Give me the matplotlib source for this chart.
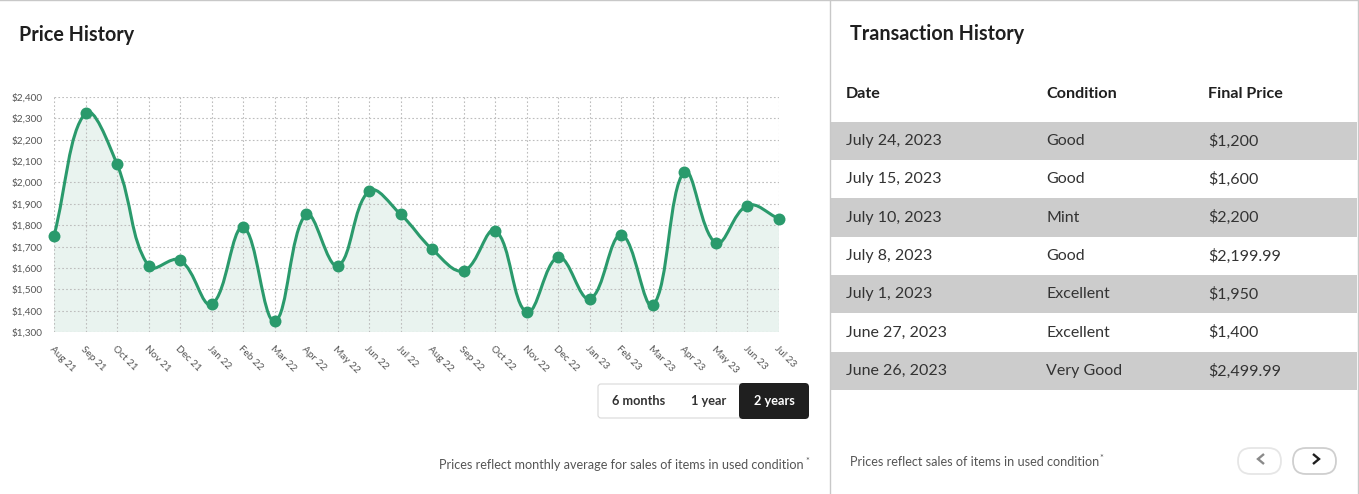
import numpy as np
import matplotlib
matplotlib.use("Agg")
import matplotlib.pyplot as plt
from matplotlib.path import Path
from matplotlib.patches import PathPatch, FancyBboxPatch, Rectangle

plt.rcParams['font.family'] = ['Lato', 'DejaVu Sans']

months = ["Aug 21","Sep 21","Oct 21","Nov 21","Dec 21","Jan 22","Feb 22","Mar 22","Apr 22","May 22","Jun 22","Jul 22",
          "Aug 22","Sep 22","Oct 22","Nov 22","Dec 22","Jan 23","Feb 23","Mar 23","Apr 23","May 23","Jun 23","Jul 23"]
prices = [1750,2325,2085,1608,1636,1430,1790,1350,1850,1610,1960,1850,
          1687,1587,1775,1393,1650,1455,1755,1425,2050,1717,1892,1830]
y_ticks = list(range(1300, 2500, 100))

dates = ["July 24, 2023","July 15, 2023","July 10, 2023","July 8, 2023","July 1, 2023","June 27, 2023","June 26, 2023"]
conditions = ["Good","Good","Mint","Good","Excellent","Excellent","Very Good"]
finals = ["$1,200","$1,600","$2,200","$2,199.99","$1,950","$1,400","$2,499.99"]
headers = ["Date","Condition","Final Price"]
ranges = ["6 months","1 year","2 years"]

W, H = 1359, 494
GREEN = "#2a9a6c"; FILL = "#e9f3ef"; DARK = "#1f1f1f"; TXT = "#333333"; GREY = "#555555"
fig = plt.figure(figsize=(W/100, H/100), dpi=100, facecolor="white")

# page layer in pixel coordinates
bg = fig.add_axes([0, 0, 1, 1]); bg.set_xlim(0, W); bg.set_ylim(H, 0); bg.axis("off")
bg.plot([0, W], [0.5, 0.5], color="#c8c8c8", lw=1)
bg.plot([829.5, 829.5], [0, H], color="#c8c8c8", lw=1)
bg.plot([1357.5, 1357.5], [0, H], color="#c8c8c8", lw=1)

bg.text(19, 35, "Price History", fontsize=14.2, fontweight="bold", color=DARK, va="center")
bg.text(850, 34, "Transaction History", fontsize=14.2, fontweight="bold", color=DARK, va="center")

col_x = [846, 1046, 1208]
for x, h in zip(col_x, headers):
    bg.text(x, 94, h, fontsize=11.6, fontweight="bold", color=DARK, va="center")
row_tops = [122, 160, 198, 237, 275, 313, 352, 390]
for i, (d, c, f) in enumerate(zip(dates, conditions, finals)):
    top, bot = row_tops[i], row_tops[i+1]
    if i % 2 == 0:
        bg.add_patch(Rectangle((830, top), 527, bot-top, color="#cccccc", lw=0))
    ym = (top+bot)/2
    for x, s in zip(col_x, (d, c, f)):
        bg.text(x, ym, s, fontsize=11.5, color=TXT, va="center")

# range buttons
bg.add_patch(FancyBboxPatch((598, 384), 210, 34, boxstyle="round,pad=0,rounding_size=3",
                            fc="white", ec="#d8d8d8", lw=0.8))
bg.add_patch(FancyBboxPatch((739, 383), 70, 36, boxstyle="round,pad=0,rounding_size=4", fc=DARK, ec="none"))
for x, s, col in zip([638.5, 709, 774], ranges, [TXT, TXT, "white"]):
    bg.text(x, 401, s, fontsize=9.2, fontweight="bold", color=col, ha="center", va="center")

bg.text(804, 465, "Prices reflect monthly average for sales of items in used condition",
        fontsize=9.1, color=GREY, ha="right", va="center")
bg.text(805, 461, "*", fontsize=6.5, color=GREY, ha="left", va="center")
bg.text(850, 462, "Prices reflect sales of items in used condition",
        fontsize=9.1, color=GREY, ha="left", va="center")
bg.text(1099, 458, "*", fontsize=6.5, color=GREY, ha="left", va="center")

# pagination pills
for x0, ec, col, sgn in [(1238, "#e6e6e6", "#8a8a8a", -1), (1293, "#cfcfcf", DARK, 1)]:
    bg.add_patch(FancyBboxPatch((x0, 448), 43, 26, boxstyle="round,pad=0,rounding_size=13",
                                fc="white", ec=ec, lw=1.3))
    xc = x0 + 23
    bg.plot([xc-sgn*3, xc+sgn*3, xc-sgn*3], [454, 459, 464], color=col, lw=1.7,
            solid_capstyle="butt", solid_joinstyle="miter")

# chart
left, right, top, bottom = 54, 779, 97, 332
ax = fig.add_axes([left/W, 1-bottom/H, (right-left)/W, (bottom-top)/H])
ax.patch.set_alpha(0)
xs = np.arange(len(prices), dtype=float)
ys = np.array(prices, dtype=float)
ax.set_xlim(0, len(prices)-1); ax.set_ylim(y_ticks[0], y_ticks[-1])

# bezier spline with tension 0.4 (distances measured in pixels)
sx = (right-left)/(len(prices)-1); sy = (bottom-top)/(y_ticks[-1]-y_ticks[0])
T = 0.4
verts = [(xs[0], ys[0])]; codes = [Path.MOVETO]
def ctrl(i):
    p = max(i-1, 0); n = min(i+1, len(xs)-1)
    d1 = np.hypot((xs[i]-xs[p])*sx, (ys[i]-ys[p])*sy)
    d2 = np.hypot((xs[n]-xs[i])*sx, (ys[n]-ys[i])*sy)
    fa = T*d1/(d1+d2); fb = T*d2/(d1+d2)
    dx, dy = xs[n]-xs[p], ys[n]-ys[p]
    return (xs[i]-fa*dx, ys[i]-fa*dy), (xs[i]+fb*dx, ys[i]+fb*dy)
for i in range(len(xs)-1):
    verts += [ctrl(i)[1], ctrl(i+1)[0], (xs[i+1], ys[i+1])]
    codes += [Path.CURVE4]*3
curve = Path(verts, codes)
fv = verts + [(xs[-1], y_ticks[0]), (xs[0], y_ticks[0]), (xs[0], ys[0])]
fc = codes + [Path.LINETO, Path.LINETO, Path.LINETO]
ax.add_patch(PathPatch(Path(fv, fc), fc=FILL, ec="none", zorder=1))
ax.grid(True, color="#bdbdbd", lw=0.8, ls=(0, (1.5, 2)), zorder=2)
ax.set_axisbelow(False)
ax.add_patch(PathPatch(curve, fc="none", ec=GREEN, lw=2.2, zorder=3, clip_on=False))
ax.plot(xs, ys, "o", ms=8.6, mfc=GREEN, mec=GREEN, mew=0, zorder=4, clip_on=False)

for s in ax.spines.values():
    s.set_visible(False)
ax.set_xticks(xs); ax.set_xticklabels(months)
ax.set_yticks(y_ticks); ax.set_yticklabels([f"${v:,}" for v in y_ticks])
ax.tick_params(length=0, labelsize=7.2, labelcolor=GREY)
ax.tick_params(axis="y", pad=8)
ax.tick_params(axis="x", pad=9)
for t in ax.get_xticklabels():
    t.set_rotation(-45); t.set_ha("left"); t.set_va("top"); t.set_rotation_mode("anchor")
    t.set_x(t.get_position()[0])

fig.savefig("out.png", dpi=100)
